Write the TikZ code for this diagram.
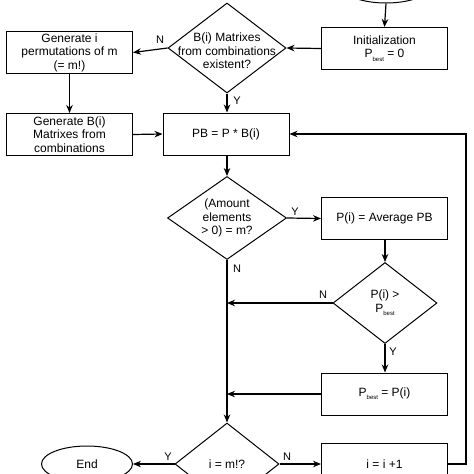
\documentclass[tikz,border=0pt]{standalone}
\usepackage{fontspec}
\setmainfont{Liberation Sans}
\usetikzlibrary{shapes.geometric,arrows.meta}
\newcommand{\Pbest}{P\raisebox{-0.5ex}{\fontsize{6}{6}\selectfont best}}
\tikzset{
  every node/.style={font=\fontsize{12}{13.5}\selectfont},
  block/.style={draw,line width=1pt,minimum width=126pt,minimum height=42pt,inner sep=1pt,align=center},
  decision/.style={draw,diamond,line width=1pt,inner sep=0pt},
  dtext/.style={align=center,inner sep=0pt},
  term/.style={draw,ellipse,line width=1pt,minimum width=91pt,minimum height=36pt},
  lbl/.style={inner sep=0pt,font=\fontsize{11}{12}\selectfont},
  arr/.style={line width=1.2pt,-{Stealth[length=8pt,width=6.5pt]}}
}
\begin{document}
\begin{tikzpicture}[x=1pt,y=-1pt]
\clip (0,0) rectangle (474,474);
\fill[white] (0,0) rectangle (474,474);

\node[term] (start) at (386,-15) {};
\node[block] (init) at (384.5,48.5) {Initialization\\\Pbest{} = 0};
\node[decision,minimum width=118pt,minimum height=90pt] (exist) at (227,48) {};
\node[dtext] (existtxt) at (227,51) {B(i) Matrixes\\from combinations\\existent?};
\node[block] (perm) at (69.5,52.5) {Generate i\\permutations of m\\(= m!)};
\node[block] (genb) at (69.5,134.5) {Generate B(i)\\Matrixes from\\combinations};
\node[block] (pb) at (226,134) {PB = P * B(i)};
\node[decision,minimum width=119pt,minimum height=83pt] (amount) at (227,218) {};
\node[dtext] (amounttxt) at (227,218) {(Amount\\elements\\> 0) = m?};
\node[block] (avg) at (384.5,218.5) {P(i) = Average PB};
\node[decision,minimum width=104pt,minimum height=81pt] (better) at (385,303) {};
\node[dtext] (bettertxt) at (385,303) {P(i) >\\\Pbest};
\node[block] (pbest) at (384.5,394) {\Pbest{} = P(i)};
\node[decision,minimum width=104pt,minimum height=82pt] (last) at (227,464) {};
\node[dtext] (lasttxt) at (227,464) {i = m!?};
\node[block] (inc) at (384.5,464) {i = i +1};
\node[term] (end) at (87,464) {End};

\coordinate (j1) at (amount.south |- better.west);
\coordinate (j2) at (amount.south |- pbest.west);
\coordinate (fbtop) at (466,134);
\coordinate (fbbot) at (466,464);

\draw[arr] (start.south) -- (init.north);
\draw[arr] (init.west) -- (exist.east);
\draw[arr] (exist.west) -- (perm.east);
\draw[arr] (perm.south) -- (genb.north);
\draw[arr] (genb.east) -- (pb.west);
\draw[arr] (exist.south) -- (exist.south |- pb.north);
\draw[arr] (pb.south -| amount.north) -- (amount.north);
\draw[arr] (amount.east) -- (avg.west);
\draw[arr] (avg.south -| better.north) -- (better.north);
\draw[arr] (better.south) -- (better.south |- pbest.north);
\draw[arr] (better.west) -- (j1);
\draw[arr] (pbest.west) -- (j2);
\draw[line width=1.2pt] (amount.south) -- (j1);
\draw[arr] (j1) -- (last.north);
\draw[arr] (last.east) -- (inc.west);
\draw[arr] (last.west) -- (end.east);
\draw[arr] (inc.east) -- (fbbot) -- (fbtop) -- (pb.east);

\foreach \n/\x/\y/\t in {l1/160/40/N,l2/237/101/Y,l3/295/212/Y,l4/323/295/N,l5/237/269/N,l6/393/352/Y,l7/287/457/N,l8/168/457/Y}
    \node[lbl] (\n) at (\x,\y) {\t};
\end{tikzpicture}
\end{document}
